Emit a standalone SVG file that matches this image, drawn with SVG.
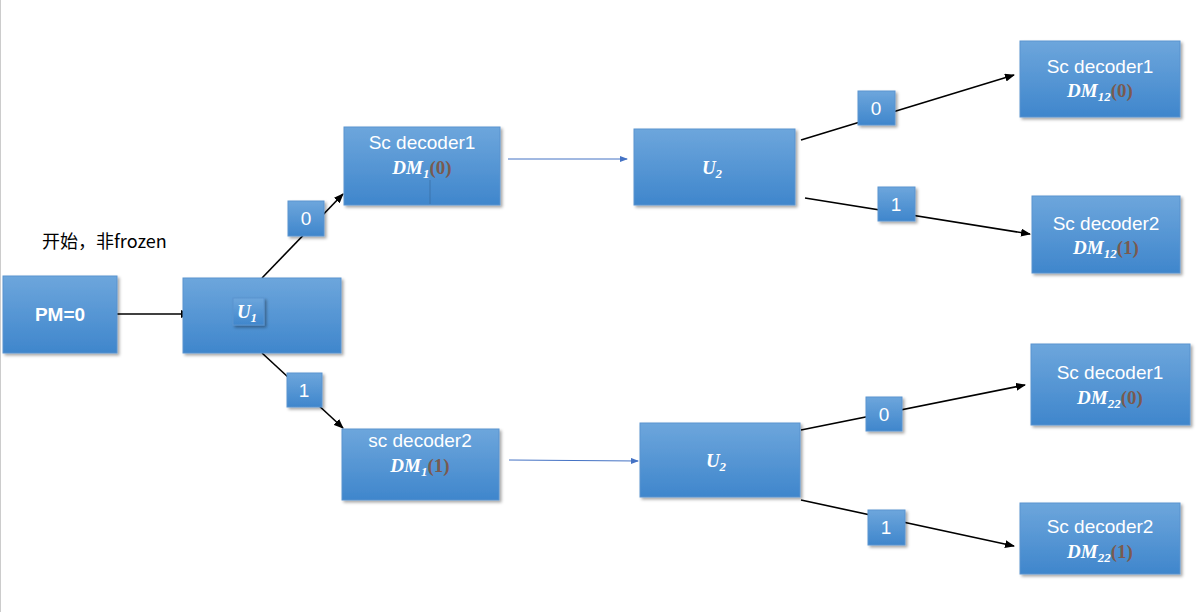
<svg xmlns="http://www.w3.org/2000/svg" width="1204" height="612" viewBox="0 0 1204 612">
<defs>
<linearGradient id="g" x1="0" y1="0" x2="0" y2="1"><stop offset="0" stop-color="#6da6dc"/><stop offset="1" stop-color="#3f86cc"/></linearGradient>
<filter id="sh" x="-10%" y="-10%" width="130%" height="130%"><feDropShadow dx="2" dy="2" stdDeviation="1.5" flood-color="#000" flood-opacity="0.35"/></filter>
<marker id="ak" markerWidth="10" markerHeight="8" refX="9" refY="4" orient="auto" markerUnits="userSpaceOnUse"><path d="M0,0 L10,4 L0,8 z" fill="#000"/></marker>
<marker id="ab" markerWidth="8" markerHeight="6" refX="7" refY="3" orient="auto" markerUnits="userSpaceOnUse"><path d="M0,0 L8,3 L0,6 z" fill="#4472c4"/></marker>
<style>
.n{fill:url(#g);stroke:#5b93cf;stroke-width:1;filter:url(#sh)}
.t{font-family:"Liberation Sans",Arial,sans-serif;font-size:19px;fill:#fff;text-anchor:middle}
.m{font-family:"Liberation Serif","Times New Roman",serif;font-size:19px;font-weight:bold;font-style:italic;fill:#fff;text-anchor:middle}
.s{font-size:13px}
.p{font-style:normal;fill:#7a5a4f}
.k{stroke:#000;stroke-width:1.6;fill:none}
.b{stroke:#4472c4;stroke-width:1;fill:none}
</style>
</defs>
<line x1="0.5" y1="0" x2="0.5" y2="612" stroke="#ccc"/>
<text x="42" y="248" font-family="'Noto Sans CJK SC','Liberation Sans',sans-serif" font-size="18" fill="#000">开始，非frozen</text>
<g id="connectors">
<line class="k" x1="117" y1="314" x2="190" y2="314" marker-end="url(#ak)"/>
<line class="k" x1="262" y1="278" x2="343" y2="194" marker-end="url(#ak)"/>
<line class="k" x1="262" y1="353" x2="343" y2="428" marker-end="url(#ak)"/>
<line class="b" x1="508" y1="159" x2="627" y2="159" marker-end="url(#ab)"/>
<line class="b" x1="509" y1="460" x2="638" y2="461" marker-end="url(#ab)"/>
<line class="k" x1="801" y1="140" x2="1014" y2="75" marker-end="url(#ak)"/>
<line class="k" x1="805" y1="198" x2="1030" y2="234" marker-end="url(#ak)"/>
<line class="k" x1="801" y1="430" x2="1025" y2="385" marker-end="url(#ak)"/>
<line class="k" x1="801" y1="500" x2="1014" y2="546" marker-end="url(#ak)"/>
</g>
<g id="pm"><rect class="n" x="3" y="276" width="114" height="77"/><text class="t" x="60" y="321" font-weight="bold">PM=0</text></g>
<g id="u1"><rect class="n" x="183" y="278" width="158" height="75"/><rect class="n" x="233" y="298" width="31" height="27"/><text class="m" x="247" y="318">U<tspan class="s" dy="4">1</tspan></text></g>
<g id="sc1"><rect class="n" x="344" y="127" width="156" height="78"/><line x1="430" y1="180" x2="430" y2="204" stroke="#3a6ea5" stroke-width="0.8"/><text class="t" x="422" y="149">Sc decoder1</text><text class="m" x="422" y="174">DM<tspan class="s" dy="4">1</tspan><tspan class="p" dy="-4">(0)</tspan></text></g>
<g id="sc2"><rect class="n" x="342" y="429" width="157" height="71"/><text class="t" x="420" y="447">sc decoder2</text><text class="m" x="420" y="472">DM<tspan class="s" dy="4">1</tspan><tspan class="p" dy="-4">(1)</tspan></text></g>
<g id="u2a"><rect class="n" x="634" y="129" width="161" height="76"/><text class="m" x="712" y="174">U<tspan class="s" dy="4">2</tspan></text></g>
<g id="u2b"><rect class="n" x="640" y="423" width="160" height="74"/><text class="m" x="716" y="467">U<tspan class="s" dy="4">2</tspan></text></g>
<g id="r1"><rect class="n" x="1020" y="41" width="160" height="76"/><text class="t" x="1100" y="73">Sc decoder1</text><text class="m" x="1100" y="97">DM<tspan class="s" dy="4">12</tspan><tspan class="p" dy="-4">(0)</tspan></text></g>
<g id="r2"><rect class="n" x="1032" y="196" width="148" height="77"/><text class="t" x="1106" y="230">Sc decoder2</text><text class="m" x="1106" y="254">DM<tspan class="s" dy="4">12</tspan><tspan class="p" dy="-4">(1)</tspan></text></g>
<g id="r3"><rect class="n" x="1031" y="344" width="159" height="81"/><text class="t" x="1110" y="379">Sc decoder1</text><text class="m" x="1110" y="404">DM<tspan class="s" dy="4">22</tspan><tspan class="p" dy="-4">(0)</tspan></text></g>
<g id="r4"><rect class="n" x="1020" y="503" width="160" height="71"/><text class="t" x="1100" y="533">Sc decoder2</text><text class="m" x="1100" y="558">DM<tspan class="s" dy="4">22</tspan><tspan class="p" dy="-4">(1)</tspan></text></g>
<g id="l1"><rect class="n" x="288" y="201" width="36" height="35"/><text class="t" x="306" y="225">0</text></g>
<g id="l2"><rect class="n" x="287" y="373" width="35" height="34"/><text class="t" x="304" y="397">1</text></g>
<g id="l3"><rect class="n" x="858" y="91" width="37" height="34"/><text class="t" x="876" y="115">0</text></g>
<g id="l4"><rect class="n" x="878" y="187" width="37" height="34"/><text class="t" x="896" y="211">1</text></g>
<g id="l5"><rect class="n" x="866" y="397" width="36" height="34"/><text class="t" x="884" y="421">0</text></g>
<g id="l6"><rect class="n" x="868" y="510" width="37" height="35"/><text class="t" x="886" y="534">1</text></g>
</svg>
